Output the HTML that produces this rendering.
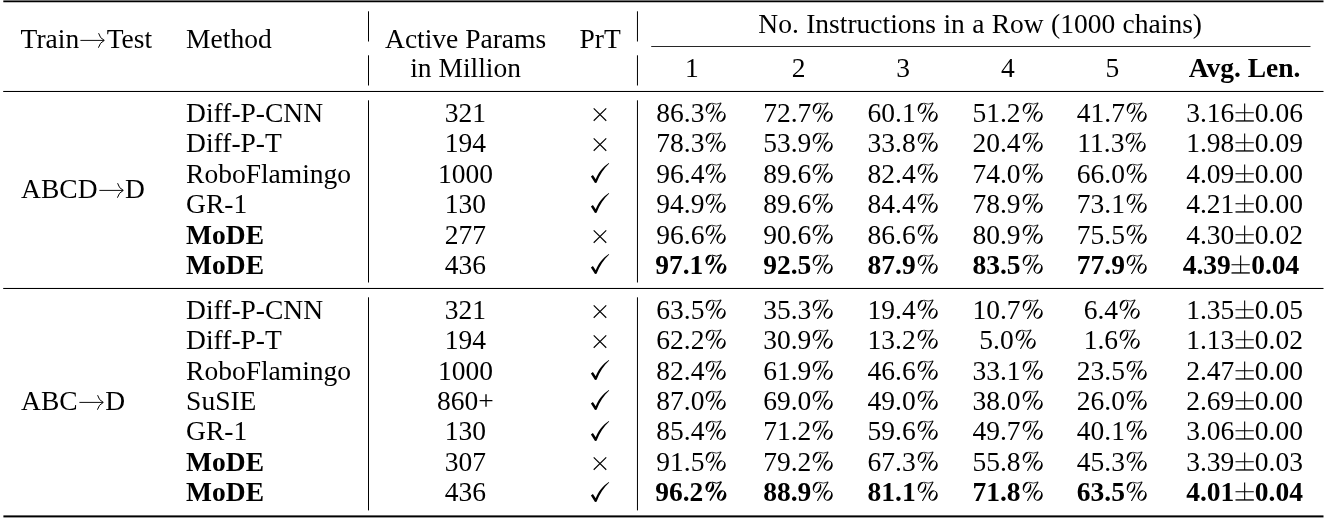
<!DOCTYPE html>
<html><head><meta charset="utf-8"><style>
html,body{margin:0;padding:0;background:#fff;}
body{width:1329px;height:519px;position:relative;overflow:hidden;font-family:"Liberation Serif",serif;font-size:27.5px;line-height:30px;color:#000;}
.t{position:absolute;white-space:nowrap;}
.c{text-align:center;}
.b,b{font-weight:bold;}
i{font-style:italic;}
#w{position:absolute;left:0;top:0;width:1329px;height:519px;transform:translateZ(0);}
.pm{vertical-align:baseline;margin:0 1.2px 0 0.3px;}
.ar{vertical-align:baseline;}
.pc{vertical-align:baseline;}
</style></head><body>
<div id="w">
<svg style="position:absolute;left:0;top:0" width="1329" height="519"><rect x="3.3" y="0.45" width="1320.2" height="1.8"/><rect x="651.2" y="46.05" width="659.3" height="0.85"/><rect x="3.2" y="90.95" width="1320.3" height="1.05"/><rect x="3.2" y="287.95" width="1320.3" height="1.05"/><rect x="3.4" y="515.4" width="1320.1" height="2.0"/><rect x="368.0" y="11.3" width="1.0" height="30.2"/><rect x="368.0" y="55.3" width="1.0" height="30.2"/><rect x="368.0" y="100.3" width="1.0" height="182.2"/><rect x="368.0" y="297.3" width="1.0" height="213.1"/><rect x="636.95" y="11.3" width="1.0" height="30.2"/><rect x="636.95" y="55.3" width="1.0" height="30.2"/><rect x="636.95" y="100.3" width="1.0" height="182.2"/><rect x="636.95" y="297.3" width="1.0" height="213.1"/></svg>
<div class="t " style="left:20.60px;top:24.00px;">Train<svg class="ar" width="27.5" height="20" viewBox="0 0 27.5 20"><path d="M1.4 12.4H25" stroke="#000" stroke-width="0.95" fill="none"/><path d="M19.6 5.2Q20.8 10.3 25.3 12.4Q20.8 14.5 19.4 19.7" stroke="#000" stroke-width="1" fill="none"/></svg>Test</div>
<div class="t " style="left:186.10px;top:24.00px;">Method</div>
<div class="t c " style="left:115.60px;top:24.00px;width:700px;">Active Params</div>
<div class="t c " style="left:115.60px;top:53.00px;width:700px;">in Million</div>
<div class="t c " style="left:250.20px;top:24.00px;width:700px;">PrT</div>
<div class="t c " style="left:630.20px;top:9.00px;width:700px;word-spacing:0.5px">No. Instructions in a Row (1000 chains)</div>
<div class="t c " style="left:341.80px;top:53.00px;width:700px;">1</div>
<div class="t c " style="left:448.70px;top:53.00px;width:700px;">2</div>
<div class="t c " style="left:553.10px;top:53.00px;width:700px;">3</div>
<div class="t c " style="left:657.90px;top:53.00px;width:700px;">4</div>
<div class="t c " style="left:762.30px;top:53.00px;width:700px;">5</div>
<div class="t c b" style="left:894.60px;top:53.00px;width:700px;">Avg. Len.</div>
<div class="t " style="left:186.10px;top:98.00px;">Diff-P-CNN</div>
<div class="t c " style="left:115.40px;top:98.00px;width:700px;">321</div>
<svg width="16" height="16" viewBox="0 0 16 16" style="position:absolute;left:592px;top:107.0px"><path d="M1.7 1.45L14.25 13.75M14.25 1.45L1.7 13.75" stroke="#000" stroke-width="1.15" fill="none"/></svg>
<div class="t c " style="left:341.80px;top:98.00px;width:700px;">86.3<svg class="pc" width="22.9" height="21" viewBox="0 0 22.9 21"><path fill-rule="evenodd" d="M1.76 7.45A4.29 5.44 0 1 0 10.34 7.45A4.29 5.44 0 1 0 1.76 7.45Z" transform="rotate(12 6.05 7.45)"/><path fill="#fff" d="M3.70 7.45A2.35 4.75 0 1 0 8.40 7.45A2.35 4.75 0 1 0 3.70 7.45Z" transform="rotate(24 6.05 7.45)"/><path fill-rule="evenodd" d="M12.53 15.55A4.57 5.22 0 1 0 21.67 15.55A4.57 5.22 0 1 0 12.53 15.55Z" transform="rotate(12 17.1 15.55)"/><path fill="#fff" d="M14.65 15.55A2.45 4.5 0 1 0 19.55 15.55A2.45 4.5 0 1 0 14.65 15.55Z" transform="rotate(24 17.1 15.55)"/><path d="M17.05 2.0L6.4 20.95" stroke="#000" stroke-width="1.15" fill="none"/><path d="M7.6 2.1Q12.4 4.3 17.2 1.9" stroke="#000" stroke-width="0.75" fill="none"/></svg></div>
<div class="t c " style="left:448.70px;top:98.00px;width:700px;">72.7<svg class="pc" width="22.9" height="21" viewBox="0 0 22.9 21"><path fill-rule="evenodd" d="M1.76 7.45A4.29 5.44 0 1 0 10.34 7.45A4.29 5.44 0 1 0 1.76 7.45Z" transform="rotate(12 6.05 7.45)"/><path fill="#fff" d="M3.70 7.45A2.35 4.75 0 1 0 8.40 7.45A2.35 4.75 0 1 0 3.70 7.45Z" transform="rotate(24 6.05 7.45)"/><path fill-rule="evenodd" d="M12.53 15.55A4.57 5.22 0 1 0 21.67 15.55A4.57 5.22 0 1 0 12.53 15.55Z" transform="rotate(12 17.1 15.55)"/><path fill="#fff" d="M14.65 15.55A2.45 4.5 0 1 0 19.55 15.55A2.45 4.5 0 1 0 14.65 15.55Z" transform="rotate(24 17.1 15.55)"/><path d="M17.05 2.0L6.4 20.95" stroke="#000" stroke-width="1.15" fill="none"/><path d="M7.6 2.1Q12.4 4.3 17.2 1.9" stroke="#000" stroke-width="0.75" fill="none"/></svg></div>
<div class="t c " style="left:553.10px;top:98.00px;width:700px;">60.1<svg class="pc" width="22.9" height="21" viewBox="0 0 22.9 21"><path fill-rule="evenodd" d="M1.76 7.45A4.29 5.44 0 1 0 10.34 7.45A4.29 5.44 0 1 0 1.76 7.45Z" transform="rotate(12 6.05 7.45)"/><path fill="#fff" d="M3.70 7.45A2.35 4.75 0 1 0 8.40 7.45A2.35 4.75 0 1 0 3.70 7.45Z" transform="rotate(24 6.05 7.45)"/><path fill-rule="evenodd" d="M12.53 15.55A4.57 5.22 0 1 0 21.67 15.55A4.57 5.22 0 1 0 12.53 15.55Z" transform="rotate(12 17.1 15.55)"/><path fill="#fff" d="M14.65 15.55A2.45 4.5 0 1 0 19.55 15.55A2.45 4.5 0 1 0 14.65 15.55Z" transform="rotate(24 17.1 15.55)"/><path d="M17.05 2.0L6.4 20.95" stroke="#000" stroke-width="1.15" fill="none"/><path d="M7.6 2.1Q12.4 4.3 17.2 1.9" stroke="#000" stroke-width="0.75" fill="none"/></svg></div>
<div class="t c " style="left:657.90px;top:98.00px;width:700px;">51.2<svg class="pc" width="22.9" height="21" viewBox="0 0 22.9 21"><path fill-rule="evenodd" d="M1.76 7.45A4.29 5.44 0 1 0 10.34 7.45A4.29 5.44 0 1 0 1.76 7.45Z" transform="rotate(12 6.05 7.45)"/><path fill="#fff" d="M3.70 7.45A2.35 4.75 0 1 0 8.40 7.45A2.35 4.75 0 1 0 3.70 7.45Z" transform="rotate(24 6.05 7.45)"/><path fill-rule="evenodd" d="M12.53 15.55A4.57 5.22 0 1 0 21.67 15.55A4.57 5.22 0 1 0 12.53 15.55Z" transform="rotate(12 17.1 15.55)"/><path fill="#fff" d="M14.65 15.55A2.45 4.5 0 1 0 19.55 15.55A2.45 4.5 0 1 0 14.65 15.55Z" transform="rotate(24 17.1 15.55)"/><path d="M17.05 2.0L6.4 20.95" stroke="#000" stroke-width="1.15" fill="none"/><path d="M7.6 2.1Q12.4 4.3 17.2 1.9" stroke="#000" stroke-width="0.75" fill="none"/></svg></div>
<div class="t c " style="left:762.30px;top:98.00px;width:700px;">41.7<svg class="pc" width="22.9" height="21" viewBox="0 0 22.9 21"><path fill-rule="evenodd" d="M1.76 7.45A4.29 5.44 0 1 0 10.34 7.45A4.29 5.44 0 1 0 1.76 7.45Z" transform="rotate(12 6.05 7.45)"/><path fill="#fff" d="M3.70 7.45A2.35 4.75 0 1 0 8.40 7.45A2.35 4.75 0 1 0 3.70 7.45Z" transform="rotate(24 6.05 7.45)"/><path fill-rule="evenodd" d="M12.53 15.55A4.57 5.22 0 1 0 21.67 15.55A4.57 5.22 0 1 0 12.53 15.55Z" transform="rotate(12 17.1 15.55)"/><path fill="#fff" d="M14.65 15.55A2.45 4.5 0 1 0 19.55 15.55A2.45 4.5 0 1 0 14.65 15.55Z" transform="rotate(24 17.1 15.55)"/><path d="M17.05 2.0L6.4 20.95" stroke="#000" stroke-width="1.15" fill="none"/><path d="M7.6 2.1Q12.4 4.3 17.2 1.9" stroke="#000" stroke-width="0.75" fill="none"/></svg></div>
<div class="t c " style="left:894.60px;top:98.00px;width:700px;">3.16<svg class="pm" width="19" height="19" viewBox="0 0 19 19"><path d="M0.5 9.8H18.8M9.65 0.6V18" stroke="#000" stroke-width="1.1" fill="none"/><path d="M0.5 17.95H18.8" stroke="#000" stroke-width="1.35" fill="none"/></svg>0.06</div>
<div class="t " style="left:186.10px;top:128.00px;">Diff-P-T</div>
<div class="t c " style="left:115.40px;top:128.00px;width:700px;">194</div>
<svg width="16" height="16" viewBox="0 0 16 16" style="position:absolute;left:592px;top:137.44px"><path d="M1.7 1.45L14.25 13.75M14.25 1.45L1.7 13.75" stroke="#000" stroke-width="1.15" fill="none"/></svg>
<div class="t c " style="left:341.80px;top:128.00px;width:700px;">78.3<svg class="pc" width="22.9" height="21" viewBox="0 0 22.9 21"><path fill-rule="evenodd" d="M1.76 7.45A4.29 5.44 0 1 0 10.34 7.45A4.29 5.44 0 1 0 1.76 7.45Z" transform="rotate(12 6.05 7.45)"/><path fill="#fff" d="M3.70 7.45A2.35 4.75 0 1 0 8.40 7.45A2.35 4.75 0 1 0 3.70 7.45Z" transform="rotate(24 6.05 7.45)"/><path fill-rule="evenodd" d="M12.53 15.55A4.57 5.22 0 1 0 21.67 15.55A4.57 5.22 0 1 0 12.53 15.55Z" transform="rotate(12 17.1 15.55)"/><path fill="#fff" d="M14.65 15.55A2.45 4.5 0 1 0 19.55 15.55A2.45 4.5 0 1 0 14.65 15.55Z" transform="rotate(24 17.1 15.55)"/><path d="M17.05 2.0L6.4 20.95" stroke="#000" stroke-width="1.15" fill="none"/><path d="M7.6 2.1Q12.4 4.3 17.2 1.9" stroke="#000" stroke-width="0.75" fill="none"/></svg></div>
<div class="t c " style="left:448.70px;top:128.00px;width:700px;">53.9<svg class="pc" width="22.9" height="21" viewBox="0 0 22.9 21"><path fill-rule="evenodd" d="M1.76 7.45A4.29 5.44 0 1 0 10.34 7.45A4.29 5.44 0 1 0 1.76 7.45Z" transform="rotate(12 6.05 7.45)"/><path fill="#fff" d="M3.70 7.45A2.35 4.75 0 1 0 8.40 7.45A2.35 4.75 0 1 0 3.70 7.45Z" transform="rotate(24 6.05 7.45)"/><path fill-rule="evenodd" d="M12.53 15.55A4.57 5.22 0 1 0 21.67 15.55A4.57 5.22 0 1 0 12.53 15.55Z" transform="rotate(12 17.1 15.55)"/><path fill="#fff" d="M14.65 15.55A2.45 4.5 0 1 0 19.55 15.55A2.45 4.5 0 1 0 14.65 15.55Z" transform="rotate(24 17.1 15.55)"/><path d="M17.05 2.0L6.4 20.95" stroke="#000" stroke-width="1.15" fill="none"/><path d="M7.6 2.1Q12.4 4.3 17.2 1.9" stroke="#000" stroke-width="0.75" fill="none"/></svg></div>
<div class="t c " style="left:553.10px;top:128.00px;width:700px;">33.8<svg class="pc" width="22.9" height="21" viewBox="0 0 22.9 21"><path fill-rule="evenodd" d="M1.76 7.45A4.29 5.44 0 1 0 10.34 7.45A4.29 5.44 0 1 0 1.76 7.45Z" transform="rotate(12 6.05 7.45)"/><path fill="#fff" d="M3.70 7.45A2.35 4.75 0 1 0 8.40 7.45A2.35 4.75 0 1 0 3.70 7.45Z" transform="rotate(24 6.05 7.45)"/><path fill-rule="evenodd" d="M12.53 15.55A4.57 5.22 0 1 0 21.67 15.55A4.57 5.22 0 1 0 12.53 15.55Z" transform="rotate(12 17.1 15.55)"/><path fill="#fff" d="M14.65 15.55A2.45 4.5 0 1 0 19.55 15.55A2.45 4.5 0 1 0 14.65 15.55Z" transform="rotate(24 17.1 15.55)"/><path d="M17.05 2.0L6.4 20.95" stroke="#000" stroke-width="1.15" fill="none"/><path d="M7.6 2.1Q12.4 4.3 17.2 1.9" stroke="#000" stroke-width="0.75" fill="none"/></svg></div>
<div class="t c " style="left:657.90px;top:128.00px;width:700px;">20.4<svg class="pc" width="22.9" height="21" viewBox="0 0 22.9 21"><path fill-rule="evenodd" d="M1.76 7.45A4.29 5.44 0 1 0 10.34 7.45A4.29 5.44 0 1 0 1.76 7.45Z" transform="rotate(12 6.05 7.45)"/><path fill="#fff" d="M3.70 7.45A2.35 4.75 0 1 0 8.40 7.45A2.35 4.75 0 1 0 3.70 7.45Z" transform="rotate(24 6.05 7.45)"/><path fill-rule="evenodd" d="M12.53 15.55A4.57 5.22 0 1 0 21.67 15.55A4.57 5.22 0 1 0 12.53 15.55Z" transform="rotate(12 17.1 15.55)"/><path fill="#fff" d="M14.65 15.55A2.45 4.5 0 1 0 19.55 15.55A2.45 4.5 0 1 0 14.65 15.55Z" transform="rotate(24 17.1 15.55)"/><path d="M17.05 2.0L6.4 20.95" stroke="#000" stroke-width="1.15" fill="none"/><path d="M7.6 2.1Q12.4 4.3 17.2 1.9" stroke="#000" stroke-width="0.75" fill="none"/></svg></div>
<div class="t c " style="left:762.30px;top:128.00px;width:700px;">11.3<svg class="pc" width="22.9" height="21" viewBox="0 0 22.9 21"><path fill-rule="evenodd" d="M1.76 7.45A4.29 5.44 0 1 0 10.34 7.45A4.29 5.44 0 1 0 1.76 7.45Z" transform="rotate(12 6.05 7.45)"/><path fill="#fff" d="M3.70 7.45A2.35 4.75 0 1 0 8.40 7.45A2.35 4.75 0 1 0 3.70 7.45Z" transform="rotate(24 6.05 7.45)"/><path fill-rule="evenodd" d="M12.53 15.55A4.57 5.22 0 1 0 21.67 15.55A4.57 5.22 0 1 0 12.53 15.55Z" transform="rotate(12 17.1 15.55)"/><path fill="#fff" d="M14.65 15.55A2.45 4.5 0 1 0 19.55 15.55A2.45 4.5 0 1 0 14.65 15.55Z" transform="rotate(24 17.1 15.55)"/><path d="M17.05 2.0L6.4 20.95" stroke="#000" stroke-width="1.15" fill="none"/><path d="M7.6 2.1Q12.4 4.3 17.2 1.9" stroke="#000" stroke-width="0.75" fill="none"/></svg></div>
<div class="t c " style="left:894.60px;top:128.00px;width:700px;">1.98<svg class="pm" width="19" height="19" viewBox="0 0 19 19"><path d="M0.5 9.8H18.8M9.65 0.6V18" stroke="#000" stroke-width="1.1" fill="none"/><path d="M0.5 17.95H18.8" stroke="#000" stroke-width="1.35" fill="none"/></svg>0.09</div>
<div class="t " style="left:186.10px;top:159.00px;">RoboFlamingo</div>
<div class="t c " style="left:115.40px;top:159.00px;width:700px;">1000</div>
<svg width="20" height="22" viewBox="0 0 20 22" style="position:absolute;left:590px;top:161.93px"><path d="M0.9 14.6L2.9 12.9L5.75 17.3C8.15 11.1 12.2 5.4 18.85 1.0L19.2 1.6C13.7 6.5 9.75 12.65 6.55 20.8L5.0 20.9Z" fill="#000"/></svg>
<div class="t c " style="left:341.80px;top:159.00px;width:700px;">96.4<svg class="pc" width="22.9" height="21" viewBox="0 0 22.9 21"><path fill-rule="evenodd" d="M1.76 7.45A4.29 5.44 0 1 0 10.34 7.45A4.29 5.44 0 1 0 1.76 7.45Z" transform="rotate(12 6.05 7.45)"/><path fill="#fff" d="M3.70 7.45A2.35 4.75 0 1 0 8.40 7.45A2.35 4.75 0 1 0 3.70 7.45Z" transform="rotate(24 6.05 7.45)"/><path fill-rule="evenodd" d="M12.53 15.55A4.57 5.22 0 1 0 21.67 15.55A4.57 5.22 0 1 0 12.53 15.55Z" transform="rotate(12 17.1 15.55)"/><path fill="#fff" d="M14.65 15.55A2.45 4.5 0 1 0 19.55 15.55A2.45 4.5 0 1 0 14.65 15.55Z" transform="rotate(24 17.1 15.55)"/><path d="M17.05 2.0L6.4 20.95" stroke="#000" stroke-width="1.15" fill="none"/><path d="M7.6 2.1Q12.4 4.3 17.2 1.9" stroke="#000" stroke-width="0.75" fill="none"/></svg></div>
<div class="t c " style="left:448.70px;top:159.00px;width:700px;">89.6<svg class="pc" width="22.9" height="21" viewBox="0 0 22.9 21"><path fill-rule="evenodd" d="M1.76 7.45A4.29 5.44 0 1 0 10.34 7.45A4.29 5.44 0 1 0 1.76 7.45Z" transform="rotate(12 6.05 7.45)"/><path fill="#fff" d="M3.70 7.45A2.35 4.75 0 1 0 8.40 7.45A2.35 4.75 0 1 0 3.70 7.45Z" transform="rotate(24 6.05 7.45)"/><path fill-rule="evenodd" d="M12.53 15.55A4.57 5.22 0 1 0 21.67 15.55A4.57 5.22 0 1 0 12.53 15.55Z" transform="rotate(12 17.1 15.55)"/><path fill="#fff" d="M14.65 15.55A2.45 4.5 0 1 0 19.55 15.55A2.45 4.5 0 1 0 14.65 15.55Z" transform="rotate(24 17.1 15.55)"/><path d="M17.05 2.0L6.4 20.95" stroke="#000" stroke-width="1.15" fill="none"/><path d="M7.6 2.1Q12.4 4.3 17.2 1.9" stroke="#000" stroke-width="0.75" fill="none"/></svg></div>
<div class="t c " style="left:553.10px;top:159.00px;width:700px;">82.4<svg class="pc" width="22.9" height="21" viewBox="0 0 22.9 21"><path fill-rule="evenodd" d="M1.76 7.45A4.29 5.44 0 1 0 10.34 7.45A4.29 5.44 0 1 0 1.76 7.45Z" transform="rotate(12 6.05 7.45)"/><path fill="#fff" d="M3.70 7.45A2.35 4.75 0 1 0 8.40 7.45A2.35 4.75 0 1 0 3.70 7.45Z" transform="rotate(24 6.05 7.45)"/><path fill-rule="evenodd" d="M12.53 15.55A4.57 5.22 0 1 0 21.67 15.55A4.57 5.22 0 1 0 12.53 15.55Z" transform="rotate(12 17.1 15.55)"/><path fill="#fff" d="M14.65 15.55A2.45 4.5 0 1 0 19.55 15.55A2.45 4.5 0 1 0 14.65 15.55Z" transform="rotate(24 17.1 15.55)"/><path d="M17.05 2.0L6.4 20.95" stroke="#000" stroke-width="1.15" fill="none"/><path d="M7.6 2.1Q12.4 4.3 17.2 1.9" stroke="#000" stroke-width="0.75" fill="none"/></svg></div>
<div class="t c " style="left:657.90px;top:159.00px;width:700px;">74.0<svg class="pc" width="22.9" height="21" viewBox="0 0 22.9 21"><path fill-rule="evenodd" d="M1.76 7.45A4.29 5.44 0 1 0 10.34 7.45A4.29 5.44 0 1 0 1.76 7.45Z" transform="rotate(12 6.05 7.45)"/><path fill="#fff" d="M3.70 7.45A2.35 4.75 0 1 0 8.40 7.45A2.35 4.75 0 1 0 3.70 7.45Z" transform="rotate(24 6.05 7.45)"/><path fill-rule="evenodd" d="M12.53 15.55A4.57 5.22 0 1 0 21.67 15.55A4.57 5.22 0 1 0 12.53 15.55Z" transform="rotate(12 17.1 15.55)"/><path fill="#fff" d="M14.65 15.55A2.45 4.5 0 1 0 19.55 15.55A2.45 4.5 0 1 0 14.65 15.55Z" transform="rotate(24 17.1 15.55)"/><path d="M17.05 2.0L6.4 20.95" stroke="#000" stroke-width="1.15" fill="none"/><path d="M7.6 2.1Q12.4 4.3 17.2 1.9" stroke="#000" stroke-width="0.75" fill="none"/></svg></div>
<div class="t c " style="left:762.30px;top:159.00px;width:700px;">66.0<svg class="pc" width="22.9" height="21" viewBox="0 0 22.9 21"><path fill-rule="evenodd" d="M1.76 7.45A4.29 5.44 0 1 0 10.34 7.45A4.29 5.44 0 1 0 1.76 7.45Z" transform="rotate(12 6.05 7.45)"/><path fill="#fff" d="M3.70 7.45A2.35 4.75 0 1 0 8.40 7.45A2.35 4.75 0 1 0 3.70 7.45Z" transform="rotate(24 6.05 7.45)"/><path fill-rule="evenodd" d="M12.53 15.55A4.57 5.22 0 1 0 21.67 15.55A4.57 5.22 0 1 0 12.53 15.55Z" transform="rotate(12 17.1 15.55)"/><path fill="#fff" d="M14.65 15.55A2.45 4.5 0 1 0 19.55 15.55A2.45 4.5 0 1 0 14.65 15.55Z" transform="rotate(24 17.1 15.55)"/><path d="M17.05 2.0L6.4 20.95" stroke="#000" stroke-width="1.15" fill="none"/><path d="M7.6 2.1Q12.4 4.3 17.2 1.9" stroke="#000" stroke-width="0.75" fill="none"/></svg></div>
<div class="t c " style="left:894.60px;top:159.00px;width:700px;">4.09<svg class="pm" width="19" height="19" viewBox="0 0 19 19"><path d="M0.5 9.8H18.8M9.65 0.6V18" stroke="#000" stroke-width="1.1" fill="none"/><path d="M0.5 17.95H18.8" stroke="#000" stroke-width="1.35" fill="none"/></svg>0.00</div>
<div class="t " style="left:186.10px;top:189.00px;">GR-1</div>
<div class="t c " style="left:115.40px;top:189.00px;width:700px;">130</div>
<svg width="20" height="22" viewBox="0 0 20 22" style="position:absolute;left:590px;top:192.37px"><path d="M0.9 14.6L2.9 12.9L5.75 17.3C8.15 11.1 12.2 5.4 18.85 1.0L19.2 1.6C13.7 6.5 9.75 12.65 6.55 20.8L5.0 20.9Z" fill="#000"/></svg>
<div class="t c " style="left:341.80px;top:189.00px;width:700px;">94.9<svg class="pc" width="22.9" height="21" viewBox="0 0 22.9 21"><path fill-rule="evenodd" d="M1.76 7.45A4.29 5.44 0 1 0 10.34 7.45A4.29 5.44 0 1 0 1.76 7.45Z" transform="rotate(12 6.05 7.45)"/><path fill="#fff" d="M3.70 7.45A2.35 4.75 0 1 0 8.40 7.45A2.35 4.75 0 1 0 3.70 7.45Z" transform="rotate(24 6.05 7.45)"/><path fill-rule="evenodd" d="M12.53 15.55A4.57 5.22 0 1 0 21.67 15.55A4.57 5.22 0 1 0 12.53 15.55Z" transform="rotate(12 17.1 15.55)"/><path fill="#fff" d="M14.65 15.55A2.45 4.5 0 1 0 19.55 15.55A2.45 4.5 0 1 0 14.65 15.55Z" transform="rotate(24 17.1 15.55)"/><path d="M17.05 2.0L6.4 20.95" stroke="#000" stroke-width="1.15" fill="none"/><path d="M7.6 2.1Q12.4 4.3 17.2 1.9" stroke="#000" stroke-width="0.75" fill="none"/></svg></div>
<div class="t c " style="left:448.70px;top:189.00px;width:700px;">89.6<svg class="pc" width="22.9" height="21" viewBox="0 0 22.9 21"><path fill-rule="evenodd" d="M1.76 7.45A4.29 5.44 0 1 0 10.34 7.45A4.29 5.44 0 1 0 1.76 7.45Z" transform="rotate(12 6.05 7.45)"/><path fill="#fff" d="M3.70 7.45A2.35 4.75 0 1 0 8.40 7.45A2.35 4.75 0 1 0 3.70 7.45Z" transform="rotate(24 6.05 7.45)"/><path fill-rule="evenodd" d="M12.53 15.55A4.57 5.22 0 1 0 21.67 15.55A4.57 5.22 0 1 0 12.53 15.55Z" transform="rotate(12 17.1 15.55)"/><path fill="#fff" d="M14.65 15.55A2.45 4.5 0 1 0 19.55 15.55A2.45 4.5 0 1 0 14.65 15.55Z" transform="rotate(24 17.1 15.55)"/><path d="M17.05 2.0L6.4 20.95" stroke="#000" stroke-width="1.15" fill="none"/><path d="M7.6 2.1Q12.4 4.3 17.2 1.9" stroke="#000" stroke-width="0.75" fill="none"/></svg></div>
<div class="t c " style="left:553.10px;top:189.00px;width:700px;">84.4<svg class="pc" width="22.9" height="21" viewBox="0 0 22.9 21"><path fill-rule="evenodd" d="M1.76 7.45A4.29 5.44 0 1 0 10.34 7.45A4.29 5.44 0 1 0 1.76 7.45Z" transform="rotate(12 6.05 7.45)"/><path fill="#fff" d="M3.70 7.45A2.35 4.75 0 1 0 8.40 7.45A2.35 4.75 0 1 0 3.70 7.45Z" transform="rotate(24 6.05 7.45)"/><path fill-rule="evenodd" d="M12.53 15.55A4.57 5.22 0 1 0 21.67 15.55A4.57 5.22 0 1 0 12.53 15.55Z" transform="rotate(12 17.1 15.55)"/><path fill="#fff" d="M14.65 15.55A2.45 4.5 0 1 0 19.55 15.55A2.45 4.5 0 1 0 14.65 15.55Z" transform="rotate(24 17.1 15.55)"/><path d="M17.05 2.0L6.4 20.95" stroke="#000" stroke-width="1.15" fill="none"/><path d="M7.6 2.1Q12.4 4.3 17.2 1.9" stroke="#000" stroke-width="0.75" fill="none"/></svg></div>
<div class="t c " style="left:657.90px;top:189.00px;width:700px;">78.9<svg class="pc" width="22.9" height="21" viewBox="0 0 22.9 21"><path fill-rule="evenodd" d="M1.76 7.45A4.29 5.44 0 1 0 10.34 7.45A4.29 5.44 0 1 0 1.76 7.45Z" transform="rotate(12 6.05 7.45)"/><path fill="#fff" d="M3.70 7.45A2.35 4.75 0 1 0 8.40 7.45A2.35 4.75 0 1 0 3.70 7.45Z" transform="rotate(24 6.05 7.45)"/><path fill-rule="evenodd" d="M12.53 15.55A4.57 5.22 0 1 0 21.67 15.55A4.57 5.22 0 1 0 12.53 15.55Z" transform="rotate(12 17.1 15.55)"/><path fill="#fff" d="M14.65 15.55A2.45 4.5 0 1 0 19.55 15.55A2.45 4.5 0 1 0 14.65 15.55Z" transform="rotate(24 17.1 15.55)"/><path d="M17.05 2.0L6.4 20.95" stroke="#000" stroke-width="1.15" fill="none"/><path d="M7.6 2.1Q12.4 4.3 17.2 1.9" stroke="#000" stroke-width="0.75" fill="none"/></svg></div>
<div class="t c " style="left:762.30px;top:189.00px;width:700px;">73.1<svg class="pc" width="22.9" height="21" viewBox="0 0 22.9 21"><path fill-rule="evenodd" d="M1.76 7.45A4.29 5.44 0 1 0 10.34 7.45A4.29 5.44 0 1 0 1.76 7.45Z" transform="rotate(12 6.05 7.45)"/><path fill="#fff" d="M3.70 7.45A2.35 4.75 0 1 0 8.40 7.45A2.35 4.75 0 1 0 3.70 7.45Z" transform="rotate(24 6.05 7.45)"/><path fill-rule="evenodd" d="M12.53 15.55A4.57 5.22 0 1 0 21.67 15.55A4.57 5.22 0 1 0 12.53 15.55Z" transform="rotate(12 17.1 15.55)"/><path fill="#fff" d="M14.65 15.55A2.45 4.5 0 1 0 19.55 15.55A2.45 4.5 0 1 0 14.65 15.55Z" transform="rotate(24 17.1 15.55)"/><path d="M17.05 2.0L6.4 20.95" stroke="#000" stroke-width="1.15" fill="none"/><path d="M7.6 2.1Q12.4 4.3 17.2 1.9" stroke="#000" stroke-width="0.75" fill="none"/></svg></div>
<div class="t c " style="left:894.60px;top:189.00px;width:700px;">4.21<svg class="pm" width="19" height="19" viewBox="0 0 19 19"><path d="M0.5 9.8H18.8M9.65 0.6V18" stroke="#000" stroke-width="1.1" fill="none"/><path d="M0.5 17.95H18.8" stroke="#000" stroke-width="1.35" fill="none"/></svg>0.00</div>
<div class="t b" style="left:186.10px;top:220.00px;">MoDE</div>
<div class="t c " style="left:115.40px;top:220.00px;width:700px;">277</div>
<svg width="16" height="16" viewBox="0 0 16 16" style="position:absolute;left:592px;top:228.76px"><path d="M1.7 1.45L14.25 13.75M14.25 1.45L1.7 13.75" stroke="#000" stroke-width="1.15" fill="none"/></svg>
<div class="t c " style="left:341.80px;top:220.00px;width:700px;">96.6<svg class="pc" width="22.9" height="21" viewBox="0 0 22.9 21"><path fill-rule="evenodd" d="M1.76 7.45A4.29 5.44 0 1 0 10.34 7.45A4.29 5.44 0 1 0 1.76 7.45Z" transform="rotate(12 6.05 7.45)"/><path fill="#fff" d="M3.70 7.45A2.35 4.75 0 1 0 8.40 7.45A2.35 4.75 0 1 0 3.70 7.45Z" transform="rotate(24 6.05 7.45)"/><path fill-rule="evenodd" d="M12.53 15.55A4.57 5.22 0 1 0 21.67 15.55A4.57 5.22 0 1 0 12.53 15.55Z" transform="rotate(12 17.1 15.55)"/><path fill="#fff" d="M14.65 15.55A2.45 4.5 0 1 0 19.55 15.55A2.45 4.5 0 1 0 14.65 15.55Z" transform="rotate(24 17.1 15.55)"/><path d="M17.05 2.0L6.4 20.95" stroke="#000" stroke-width="1.15" fill="none"/><path d="M7.6 2.1Q12.4 4.3 17.2 1.9" stroke="#000" stroke-width="0.75" fill="none"/></svg></div>
<div class="t c " style="left:448.70px;top:220.00px;width:700px;">90.6<svg class="pc" width="22.9" height="21" viewBox="0 0 22.9 21"><path fill-rule="evenodd" d="M1.76 7.45A4.29 5.44 0 1 0 10.34 7.45A4.29 5.44 0 1 0 1.76 7.45Z" transform="rotate(12 6.05 7.45)"/><path fill="#fff" d="M3.70 7.45A2.35 4.75 0 1 0 8.40 7.45A2.35 4.75 0 1 0 3.70 7.45Z" transform="rotate(24 6.05 7.45)"/><path fill-rule="evenodd" d="M12.53 15.55A4.57 5.22 0 1 0 21.67 15.55A4.57 5.22 0 1 0 12.53 15.55Z" transform="rotate(12 17.1 15.55)"/><path fill="#fff" d="M14.65 15.55A2.45 4.5 0 1 0 19.55 15.55A2.45 4.5 0 1 0 14.65 15.55Z" transform="rotate(24 17.1 15.55)"/><path d="M17.05 2.0L6.4 20.95" stroke="#000" stroke-width="1.15" fill="none"/><path d="M7.6 2.1Q12.4 4.3 17.2 1.9" stroke="#000" stroke-width="0.75" fill="none"/></svg></div>
<div class="t c " style="left:553.10px;top:220.00px;width:700px;">86.6<svg class="pc" width="22.9" height="21" viewBox="0 0 22.9 21"><path fill-rule="evenodd" d="M1.76 7.45A4.29 5.44 0 1 0 10.34 7.45A4.29 5.44 0 1 0 1.76 7.45Z" transform="rotate(12 6.05 7.45)"/><path fill="#fff" d="M3.70 7.45A2.35 4.75 0 1 0 8.40 7.45A2.35 4.75 0 1 0 3.70 7.45Z" transform="rotate(24 6.05 7.45)"/><path fill-rule="evenodd" d="M12.53 15.55A4.57 5.22 0 1 0 21.67 15.55A4.57 5.22 0 1 0 12.53 15.55Z" transform="rotate(12 17.1 15.55)"/><path fill="#fff" d="M14.65 15.55A2.45 4.5 0 1 0 19.55 15.55A2.45 4.5 0 1 0 14.65 15.55Z" transform="rotate(24 17.1 15.55)"/><path d="M17.05 2.0L6.4 20.95" stroke="#000" stroke-width="1.15" fill="none"/><path d="M7.6 2.1Q12.4 4.3 17.2 1.9" stroke="#000" stroke-width="0.75" fill="none"/></svg></div>
<div class="t c " style="left:657.90px;top:220.00px;width:700px;">80.9<svg class="pc" width="22.9" height="21" viewBox="0 0 22.9 21"><path fill-rule="evenodd" d="M1.76 7.45A4.29 5.44 0 1 0 10.34 7.45A4.29 5.44 0 1 0 1.76 7.45Z" transform="rotate(12 6.05 7.45)"/><path fill="#fff" d="M3.70 7.45A2.35 4.75 0 1 0 8.40 7.45A2.35 4.75 0 1 0 3.70 7.45Z" transform="rotate(24 6.05 7.45)"/><path fill-rule="evenodd" d="M12.53 15.55A4.57 5.22 0 1 0 21.67 15.55A4.57 5.22 0 1 0 12.53 15.55Z" transform="rotate(12 17.1 15.55)"/><path fill="#fff" d="M14.65 15.55A2.45 4.5 0 1 0 19.55 15.55A2.45 4.5 0 1 0 14.65 15.55Z" transform="rotate(24 17.1 15.55)"/><path d="M17.05 2.0L6.4 20.95" stroke="#000" stroke-width="1.15" fill="none"/><path d="M7.6 2.1Q12.4 4.3 17.2 1.9" stroke="#000" stroke-width="0.75" fill="none"/></svg></div>
<div class="t c " style="left:762.30px;top:220.00px;width:700px;">75.5<svg class="pc" width="22.9" height="21" viewBox="0 0 22.9 21"><path fill-rule="evenodd" d="M1.76 7.45A4.29 5.44 0 1 0 10.34 7.45A4.29 5.44 0 1 0 1.76 7.45Z" transform="rotate(12 6.05 7.45)"/><path fill="#fff" d="M3.70 7.45A2.35 4.75 0 1 0 8.40 7.45A2.35 4.75 0 1 0 3.70 7.45Z" transform="rotate(24 6.05 7.45)"/><path fill-rule="evenodd" d="M12.53 15.55A4.57 5.22 0 1 0 21.67 15.55A4.57 5.22 0 1 0 12.53 15.55Z" transform="rotate(12 17.1 15.55)"/><path fill="#fff" d="M14.65 15.55A2.45 4.5 0 1 0 19.55 15.55A2.45 4.5 0 1 0 14.65 15.55Z" transform="rotate(24 17.1 15.55)"/><path d="M17.05 2.0L6.4 20.95" stroke="#000" stroke-width="1.15" fill="none"/><path d="M7.6 2.1Q12.4 4.3 17.2 1.9" stroke="#000" stroke-width="0.75" fill="none"/></svg></div>
<div class="t c " style="left:894.60px;top:220.00px;width:700px;">4.30<svg class="pm" width="19" height="19" viewBox="0 0 19 19"><path d="M0.5 9.8H18.8M9.65 0.6V18" stroke="#000" stroke-width="1.1" fill="none"/><path d="M0.5 17.95H18.8" stroke="#000" stroke-width="1.35" fill="none"/></svg>0.02</div>
<div class="t b" style="left:186.10px;top:250.00px;">MoDE</div>
<div class="t c " style="left:115.40px;top:250.00px;width:700px;">436</div>
<svg width="20" height="22" viewBox="0 0 20 22" style="position:absolute;left:590px;top:253.25px"><path d="M0.9 14.6L2.9 12.9L5.75 17.3C8.15 11.1 12.2 5.4 18.85 1.0L19.2 1.6C13.7 6.5 9.75 12.65 6.55 20.8L5.0 20.9Z" fill="#000"/></svg>
<div class="t c " style="left:341.80px;top:250.00px;width:700px;"><b>97.1</b><svg class="pc" width="25.0" height="21" viewBox="0 0 25.0 21"><path fill-rule="evenodd" d="M2.44 7.00A4.36 5.23 0 1 0 11.16 7.00A4.36 5.23 0 1 0 2.44 7.00Z" transform="rotate(12 6.8 7.0)"/><path fill="#fff" d="M5.20 7.00A1.6 4.3 0 1 0 8.40 7.00A1.6 4.3 0 1 0 5.20 7.00Z" transform="rotate(22 6.8 7.0)"/><path fill-rule="evenodd" d="M13.93 15.50A4.72 5.32 0 1 0 23.37 15.50A4.72 5.32 0 1 0 13.93 15.50Z" transform="rotate(12 18.65 15.5)"/><path fill="#fff" d="M16.95 15.50A1.7 4.4 0 1 0 20.35 15.50A1.7 4.4 0 1 0 16.95 15.50Z" transform="rotate(22 18.65 15.5)"/><path d="M18.3 1.8L7.0 20.6" stroke="#000" stroke-width="1.5" fill="none"/><path d="M8.8 2.0Q13.5 4.6 18.4 1.7" stroke="#000" stroke-width="1.0" fill="none"/></svg></div>
<div class="t c " style="left:448.70px;top:250.00px;width:700px;"><b>92.5</b><svg class="pc" width="22.9" height="21" viewBox="0 0 22.9 21"><path fill-rule="evenodd" d="M1.76 7.45A4.29 5.44 0 1 0 10.34 7.45A4.29 5.44 0 1 0 1.76 7.45Z" transform="rotate(12 6.05 7.45)"/><path fill="#fff" d="M3.70 7.45A2.35 4.75 0 1 0 8.40 7.45A2.35 4.75 0 1 0 3.70 7.45Z" transform="rotate(24 6.05 7.45)"/><path fill-rule="evenodd" d="M12.53 15.55A4.57 5.22 0 1 0 21.67 15.55A4.57 5.22 0 1 0 12.53 15.55Z" transform="rotate(12 17.1 15.55)"/><path fill="#fff" d="M14.65 15.55A2.45 4.5 0 1 0 19.55 15.55A2.45 4.5 0 1 0 14.65 15.55Z" transform="rotate(24 17.1 15.55)"/><path d="M17.05 2.0L6.4 20.95" stroke="#000" stroke-width="1.15" fill="none"/><path d="M7.6 2.1Q12.4 4.3 17.2 1.9" stroke="#000" stroke-width="0.75" fill="none"/></svg></div>
<div class="t c " style="left:553.10px;top:250.00px;width:700px;"><b>87.9</b><svg class="pc" width="22.9" height="21" viewBox="0 0 22.9 21"><path fill-rule="evenodd" d="M1.76 7.45A4.29 5.44 0 1 0 10.34 7.45A4.29 5.44 0 1 0 1.76 7.45Z" transform="rotate(12 6.05 7.45)"/><path fill="#fff" d="M3.70 7.45A2.35 4.75 0 1 0 8.40 7.45A2.35 4.75 0 1 0 3.70 7.45Z" transform="rotate(24 6.05 7.45)"/><path fill-rule="evenodd" d="M12.53 15.55A4.57 5.22 0 1 0 21.67 15.55A4.57 5.22 0 1 0 12.53 15.55Z" transform="rotate(12 17.1 15.55)"/><path fill="#fff" d="M14.65 15.55A2.45 4.5 0 1 0 19.55 15.55A2.45 4.5 0 1 0 14.65 15.55Z" transform="rotate(24 17.1 15.55)"/><path d="M17.05 2.0L6.4 20.95" stroke="#000" stroke-width="1.15" fill="none"/><path d="M7.6 2.1Q12.4 4.3 17.2 1.9" stroke="#000" stroke-width="0.75" fill="none"/></svg></div>
<div class="t c " style="left:657.90px;top:250.00px;width:700px;"><b>83.5</b><svg class="pc" width="22.9" height="21" viewBox="0 0 22.9 21"><path fill-rule="evenodd" d="M1.76 7.45A4.29 5.44 0 1 0 10.34 7.45A4.29 5.44 0 1 0 1.76 7.45Z" transform="rotate(12 6.05 7.45)"/><path fill="#fff" d="M3.70 7.45A2.35 4.75 0 1 0 8.40 7.45A2.35 4.75 0 1 0 3.70 7.45Z" transform="rotate(24 6.05 7.45)"/><path fill-rule="evenodd" d="M12.53 15.55A4.57 5.22 0 1 0 21.67 15.55A4.57 5.22 0 1 0 12.53 15.55Z" transform="rotate(12 17.1 15.55)"/><path fill="#fff" d="M14.65 15.55A2.45 4.5 0 1 0 19.55 15.55A2.45 4.5 0 1 0 14.65 15.55Z" transform="rotate(24 17.1 15.55)"/><path d="M17.05 2.0L6.4 20.95" stroke="#000" stroke-width="1.15" fill="none"/><path d="M7.6 2.1Q12.4 4.3 17.2 1.9" stroke="#000" stroke-width="0.75" fill="none"/></svg></div>
<div class="t c " style="left:762.30px;top:250.00px;width:700px;"><b>77.9</b><svg class="pc" width="22.9" height="21" viewBox="0 0 22.9 21"><path fill-rule="evenodd" d="M1.76 7.45A4.29 5.44 0 1 0 10.34 7.45A4.29 5.44 0 1 0 1.76 7.45Z" transform="rotate(12 6.05 7.45)"/><path fill="#fff" d="M3.70 7.45A2.35 4.75 0 1 0 8.40 7.45A2.35 4.75 0 1 0 3.70 7.45Z" transform="rotate(24 6.05 7.45)"/><path fill-rule="evenodd" d="M12.53 15.55A4.57 5.22 0 1 0 21.67 15.55A4.57 5.22 0 1 0 12.53 15.55Z" transform="rotate(12 17.1 15.55)"/><path fill="#fff" d="M14.65 15.55A2.45 4.5 0 1 0 19.55 15.55A2.45 4.5 0 1 0 14.65 15.55Z" transform="rotate(24 17.1 15.55)"/><path d="M17.05 2.0L6.4 20.95" stroke="#000" stroke-width="1.15" fill="none"/><path d="M7.6 2.1Q12.4 4.3 17.2 1.9" stroke="#000" stroke-width="0.75" fill="none"/></svg></div>
<div class="t c " style="left:891.00px;top:250.00px;width:700px;"><b>4.39</b><svg class="pm" width="19" height="19" viewBox="0 0 19 19"><path d="M0.5 9.8H18.8M9.65 0.6V18" stroke="#000" stroke-width="1.1" fill="none"/><path d="M0.5 17.95H18.8" stroke="#000" stroke-width="1.35" fill="none"/></svg><b>0.04</b></div>
<div class="t " style="left:186.10px;top:295.00px;">Diff-P-CNN</div>
<div class="t c " style="left:115.40px;top:295.00px;width:700px;">321</div>
<svg width="16" height="16" viewBox="0 0 16 16" style="position:absolute;left:592px;top:303.85px"><path d="M1.7 1.45L14.25 13.75M14.25 1.45L1.7 13.75" stroke="#000" stroke-width="1.15" fill="none"/></svg>
<div class="t c " style="left:341.80px;top:295.00px;width:700px;">63.5<svg class="pc" width="22.9" height="21" viewBox="0 0 22.9 21"><path fill-rule="evenodd" d="M1.76 7.45A4.29 5.44 0 1 0 10.34 7.45A4.29 5.44 0 1 0 1.76 7.45Z" transform="rotate(12 6.05 7.45)"/><path fill="#fff" d="M3.70 7.45A2.35 4.75 0 1 0 8.40 7.45A2.35 4.75 0 1 0 3.70 7.45Z" transform="rotate(24 6.05 7.45)"/><path fill-rule="evenodd" d="M12.53 15.55A4.57 5.22 0 1 0 21.67 15.55A4.57 5.22 0 1 0 12.53 15.55Z" transform="rotate(12 17.1 15.55)"/><path fill="#fff" d="M14.65 15.55A2.45 4.5 0 1 0 19.55 15.55A2.45 4.5 0 1 0 14.65 15.55Z" transform="rotate(24 17.1 15.55)"/><path d="M17.05 2.0L6.4 20.95" stroke="#000" stroke-width="1.15" fill="none"/><path d="M7.6 2.1Q12.4 4.3 17.2 1.9" stroke="#000" stroke-width="0.75" fill="none"/></svg></div>
<div class="t c " style="left:448.70px;top:295.00px;width:700px;">35.3<svg class="pc" width="22.9" height="21" viewBox="0 0 22.9 21"><path fill-rule="evenodd" d="M1.76 7.45A4.29 5.44 0 1 0 10.34 7.45A4.29 5.44 0 1 0 1.76 7.45Z" transform="rotate(12 6.05 7.45)"/><path fill="#fff" d="M3.70 7.45A2.35 4.75 0 1 0 8.40 7.45A2.35 4.75 0 1 0 3.70 7.45Z" transform="rotate(24 6.05 7.45)"/><path fill-rule="evenodd" d="M12.53 15.55A4.57 5.22 0 1 0 21.67 15.55A4.57 5.22 0 1 0 12.53 15.55Z" transform="rotate(12 17.1 15.55)"/><path fill="#fff" d="M14.65 15.55A2.45 4.5 0 1 0 19.55 15.55A2.45 4.5 0 1 0 14.65 15.55Z" transform="rotate(24 17.1 15.55)"/><path d="M17.05 2.0L6.4 20.95" stroke="#000" stroke-width="1.15" fill="none"/><path d="M7.6 2.1Q12.4 4.3 17.2 1.9" stroke="#000" stroke-width="0.75" fill="none"/></svg></div>
<div class="t c " style="left:553.10px;top:295.00px;width:700px;">19.4<svg class="pc" width="22.9" height="21" viewBox="0 0 22.9 21"><path fill-rule="evenodd" d="M1.76 7.45A4.29 5.44 0 1 0 10.34 7.45A4.29 5.44 0 1 0 1.76 7.45Z" transform="rotate(12 6.05 7.45)"/><path fill="#fff" d="M3.70 7.45A2.35 4.75 0 1 0 8.40 7.45A2.35 4.75 0 1 0 3.70 7.45Z" transform="rotate(24 6.05 7.45)"/><path fill-rule="evenodd" d="M12.53 15.55A4.57 5.22 0 1 0 21.67 15.55A4.57 5.22 0 1 0 12.53 15.55Z" transform="rotate(12 17.1 15.55)"/><path fill="#fff" d="M14.65 15.55A2.45 4.5 0 1 0 19.55 15.55A2.45 4.5 0 1 0 14.65 15.55Z" transform="rotate(24 17.1 15.55)"/><path d="M17.05 2.0L6.4 20.95" stroke="#000" stroke-width="1.15" fill="none"/><path d="M7.6 2.1Q12.4 4.3 17.2 1.9" stroke="#000" stroke-width="0.75" fill="none"/></svg></div>
<div class="t c " style="left:657.90px;top:295.00px;width:700px;">10.7<svg class="pc" width="22.9" height="21" viewBox="0 0 22.9 21"><path fill-rule="evenodd" d="M1.76 7.45A4.29 5.44 0 1 0 10.34 7.45A4.29 5.44 0 1 0 1.76 7.45Z" transform="rotate(12 6.05 7.45)"/><path fill="#fff" d="M3.70 7.45A2.35 4.75 0 1 0 8.40 7.45A2.35 4.75 0 1 0 3.70 7.45Z" transform="rotate(24 6.05 7.45)"/><path fill-rule="evenodd" d="M12.53 15.55A4.57 5.22 0 1 0 21.67 15.55A4.57 5.22 0 1 0 12.53 15.55Z" transform="rotate(12 17.1 15.55)"/><path fill="#fff" d="M14.65 15.55A2.45 4.5 0 1 0 19.55 15.55A2.45 4.5 0 1 0 14.65 15.55Z" transform="rotate(24 17.1 15.55)"/><path d="M17.05 2.0L6.4 20.95" stroke="#000" stroke-width="1.15" fill="none"/><path d="M7.6 2.1Q12.4 4.3 17.2 1.9" stroke="#000" stroke-width="0.75" fill="none"/></svg></div>
<div class="t c " style="left:762.30px;top:295.00px;width:700px;">6.4<svg class="pc" width="22.9" height="21" viewBox="0 0 22.9 21"><path fill-rule="evenodd" d="M1.76 7.45A4.29 5.44 0 1 0 10.34 7.45A4.29 5.44 0 1 0 1.76 7.45Z" transform="rotate(12 6.05 7.45)"/><path fill="#fff" d="M3.70 7.45A2.35 4.75 0 1 0 8.40 7.45A2.35 4.75 0 1 0 3.70 7.45Z" transform="rotate(24 6.05 7.45)"/><path fill-rule="evenodd" d="M12.53 15.55A4.57 5.22 0 1 0 21.67 15.55A4.57 5.22 0 1 0 12.53 15.55Z" transform="rotate(12 17.1 15.55)"/><path fill="#fff" d="M14.65 15.55A2.45 4.5 0 1 0 19.55 15.55A2.45 4.5 0 1 0 14.65 15.55Z" transform="rotate(24 17.1 15.55)"/><path d="M17.05 2.0L6.4 20.95" stroke="#000" stroke-width="1.15" fill="none"/><path d="M7.6 2.1Q12.4 4.3 17.2 1.9" stroke="#000" stroke-width="0.75" fill="none"/></svg></div>
<div class="t c " style="left:894.60px;top:295.00px;width:700px;">1.35<svg class="pm" width="19" height="19" viewBox="0 0 19 19"><path d="M0.5 9.8H18.8M9.65 0.6V18" stroke="#000" stroke-width="1.1" fill="none"/><path d="M0.5 17.95H18.8" stroke="#000" stroke-width="1.35" fill="none"/></svg>0.05</div>
<div class="t " style="left:186.10px;top:325.00px;">Diff-P-T</div>
<div class="t c " style="left:115.40px;top:325.00px;width:700px;">194</div>
<svg width="16" height="16" viewBox="0 0 16 16" style="position:absolute;left:592px;top:334.29px"><path d="M1.7 1.45L14.25 13.75M14.25 1.45L1.7 13.75" stroke="#000" stroke-width="1.15" fill="none"/></svg>
<div class="t c " style="left:341.80px;top:325.00px;width:700px;">62.2<svg class="pc" width="22.9" height="21" viewBox="0 0 22.9 21"><path fill-rule="evenodd" d="M1.76 7.45A4.29 5.44 0 1 0 10.34 7.45A4.29 5.44 0 1 0 1.76 7.45Z" transform="rotate(12 6.05 7.45)"/><path fill="#fff" d="M3.70 7.45A2.35 4.75 0 1 0 8.40 7.45A2.35 4.75 0 1 0 3.70 7.45Z" transform="rotate(24 6.05 7.45)"/><path fill-rule="evenodd" d="M12.53 15.55A4.57 5.22 0 1 0 21.67 15.55A4.57 5.22 0 1 0 12.53 15.55Z" transform="rotate(12 17.1 15.55)"/><path fill="#fff" d="M14.65 15.55A2.45 4.5 0 1 0 19.55 15.55A2.45 4.5 0 1 0 14.65 15.55Z" transform="rotate(24 17.1 15.55)"/><path d="M17.05 2.0L6.4 20.95" stroke="#000" stroke-width="1.15" fill="none"/><path d="M7.6 2.1Q12.4 4.3 17.2 1.9" stroke="#000" stroke-width="0.75" fill="none"/></svg></div>
<div class="t c " style="left:448.70px;top:325.00px;width:700px;">30.9<svg class="pc" width="22.9" height="21" viewBox="0 0 22.9 21"><path fill-rule="evenodd" d="M1.76 7.45A4.29 5.44 0 1 0 10.34 7.45A4.29 5.44 0 1 0 1.76 7.45Z" transform="rotate(12 6.05 7.45)"/><path fill="#fff" d="M3.70 7.45A2.35 4.75 0 1 0 8.40 7.45A2.35 4.75 0 1 0 3.70 7.45Z" transform="rotate(24 6.05 7.45)"/><path fill-rule="evenodd" d="M12.53 15.55A4.57 5.22 0 1 0 21.67 15.55A4.57 5.22 0 1 0 12.53 15.55Z" transform="rotate(12 17.1 15.55)"/><path fill="#fff" d="M14.65 15.55A2.45 4.5 0 1 0 19.55 15.55A2.45 4.5 0 1 0 14.65 15.55Z" transform="rotate(24 17.1 15.55)"/><path d="M17.05 2.0L6.4 20.95" stroke="#000" stroke-width="1.15" fill="none"/><path d="M7.6 2.1Q12.4 4.3 17.2 1.9" stroke="#000" stroke-width="0.75" fill="none"/></svg></div>
<div class="t c " style="left:553.10px;top:325.00px;width:700px;">13.2<svg class="pc" width="22.9" height="21" viewBox="0 0 22.9 21"><path fill-rule="evenodd" d="M1.76 7.45A4.29 5.44 0 1 0 10.34 7.45A4.29 5.44 0 1 0 1.76 7.45Z" transform="rotate(12 6.05 7.45)"/><path fill="#fff" d="M3.70 7.45A2.35 4.75 0 1 0 8.40 7.45A2.35 4.75 0 1 0 3.70 7.45Z" transform="rotate(24 6.05 7.45)"/><path fill-rule="evenodd" d="M12.53 15.55A4.57 5.22 0 1 0 21.67 15.55A4.57 5.22 0 1 0 12.53 15.55Z" transform="rotate(12 17.1 15.55)"/><path fill="#fff" d="M14.65 15.55A2.45 4.5 0 1 0 19.55 15.55A2.45 4.5 0 1 0 14.65 15.55Z" transform="rotate(24 17.1 15.55)"/><path d="M17.05 2.0L6.4 20.95" stroke="#000" stroke-width="1.15" fill="none"/><path d="M7.6 2.1Q12.4 4.3 17.2 1.9" stroke="#000" stroke-width="0.75" fill="none"/></svg></div>
<div class="t c " style="left:657.90px;top:325.00px;width:700px;">5.0<svg class="pc" width="22.9" height="21" viewBox="0 0 22.9 21"><path fill-rule="evenodd" d="M1.76 7.45A4.29 5.44 0 1 0 10.34 7.45A4.29 5.44 0 1 0 1.76 7.45Z" transform="rotate(12 6.05 7.45)"/><path fill="#fff" d="M3.70 7.45A2.35 4.75 0 1 0 8.40 7.45A2.35 4.75 0 1 0 3.70 7.45Z" transform="rotate(24 6.05 7.45)"/><path fill-rule="evenodd" d="M12.53 15.55A4.57 5.22 0 1 0 21.67 15.55A4.57 5.22 0 1 0 12.53 15.55Z" transform="rotate(12 17.1 15.55)"/><path fill="#fff" d="M14.65 15.55A2.45 4.5 0 1 0 19.55 15.55A2.45 4.5 0 1 0 14.65 15.55Z" transform="rotate(24 17.1 15.55)"/><path d="M17.05 2.0L6.4 20.95" stroke="#000" stroke-width="1.15" fill="none"/><path d="M7.6 2.1Q12.4 4.3 17.2 1.9" stroke="#000" stroke-width="0.75" fill="none"/></svg></div>
<div class="t c " style="left:762.30px;top:325.00px;width:700px;">1.6<svg class="pc" width="22.9" height="21" viewBox="0 0 22.9 21"><path fill-rule="evenodd" d="M1.76 7.45A4.29 5.44 0 1 0 10.34 7.45A4.29 5.44 0 1 0 1.76 7.45Z" transform="rotate(12 6.05 7.45)"/><path fill="#fff" d="M3.70 7.45A2.35 4.75 0 1 0 8.40 7.45A2.35 4.75 0 1 0 3.70 7.45Z" transform="rotate(24 6.05 7.45)"/><path fill-rule="evenodd" d="M12.53 15.55A4.57 5.22 0 1 0 21.67 15.55A4.57 5.22 0 1 0 12.53 15.55Z" transform="rotate(12 17.1 15.55)"/><path fill="#fff" d="M14.65 15.55A2.45 4.5 0 1 0 19.55 15.55A2.45 4.5 0 1 0 14.65 15.55Z" transform="rotate(24 17.1 15.55)"/><path d="M17.05 2.0L6.4 20.95" stroke="#000" stroke-width="1.15" fill="none"/><path d="M7.6 2.1Q12.4 4.3 17.2 1.9" stroke="#000" stroke-width="0.75" fill="none"/></svg></div>
<div class="t c " style="left:894.60px;top:325.00px;width:700px;">1.13<svg class="pm" width="19" height="19" viewBox="0 0 19 19"><path d="M0.5 9.8H18.8M9.65 0.6V18" stroke="#000" stroke-width="1.1" fill="none"/><path d="M0.5 17.95H18.8" stroke="#000" stroke-width="1.35" fill="none"/></svg>0.02</div>
<div class="t " style="left:186.10px;top:356.00px;">RoboFlamingo</div>
<div class="t c " style="left:115.40px;top:356.00px;width:700px;">1000</div>
<svg width="20" height="22" viewBox="0 0 20 22" style="position:absolute;left:590px;top:358.78px"><path d="M0.9 14.6L2.9 12.9L5.75 17.3C8.15 11.1 12.2 5.4 18.85 1.0L19.2 1.6C13.7 6.5 9.75 12.65 6.55 20.8L5.0 20.9Z" fill="#000"/></svg>
<div class="t c " style="left:341.80px;top:356.00px;width:700px;">82.4<svg class="pc" width="22.9" height="21" viewBox="0 0 22.9 21"><path fill-rule="evenodd" d="M1.76 7.45A4.29 5.44 0 1 0 10.34 7.45A4.29 5.44 0 1 0 1.76 7.45Z" transform="rotate(12 6.05 7.45)"/><path fill="#fff" d="M3.70 7.45A2.35 4.75 0 1 0 8.40 7.45A2.35 4.75 0 1 0 3.70 7.45Z" transform="rotate(24 6.05 7.45)"/><path fill-rule="evenodd" d="M12.53 15.55A4.57 5.22 0 1 0 21.67 15.55A4.57 5.22 0 1 0 12.53 15.55Z" transform="rotate(12 17.1 15.55)"/><path fill="#fff" d="M14.65 15.55A2.45 4.5 0 1 0 19.55 15.55A2.45 4.5 0 1 0 14.65 15.55Z" transform="rotate(24 17.1 15.55)"/><path d="M17.05 2.0L6.4 20.95" stroke="#000" stroke-width="1.15" fill="none"/><path d="M7.6 2.1Q12.4 4.3 17.2 1.9" stroke="#000" stroke-width="0.75" fill="none"/></svg></div>
<div class="t c " style="left:448.70px;top:356.00px;width:700px;">61.9<svg class="pc" width="22.9" height="21" viewBox="0 0 22.9 21"><path fill-rule="evenodd" d="M1.76 7.45A4.29 5.44 0 1 0 10.34 7.45A4.29 5.44 0 1 0 1.76 7.45Z" transform="rotate(12 6.05 7.45)"/><path fill="#fff" d="M3.70 7.45A2.35 4.75 0 1 0 8.40 7.45A2.35 4.75 0 1 0 3.70 7.45Z" transform="rotate(24 6.05 7.45)"/><path fill-rule="evenodd" d="M12.53 15.55A4.57 5.22 0 1 0 21.67 15.55A4.57 5.22 0 1 0 12.53 15.55Z" transform="rotate(12 17.1 15.55)"/><path fill="#fff" d="M14.65 15.55A2.45 4.5 0 1 0 19.55 15.55A2.45 4.5 0 1 0 14.65 15.55Z" transform="rotate(24 17.1 15.55)"/><path d="M17.05 2.0L6.4 20.95" stroke="#000" stroke-width="1.15" fill="none"/><path d="M7.6 2.1Q12.4 4.3 17.2 1.9" stroke="#000" stroke-width="0.75" fill="none"/></svg></div>
<div class="t c " style="left:553.10px;top:356.00px;width:700px;">46.6<svg class="pc" width="22.9" height="21" viewBox="0 0 22.9 21"><path fill-rule="evenodd" d="M1.76 7.45A4.29 5.44 0 1 0 10.34 7.45A4.29 5.44 0 1 0 1.76 7.45Z" transform="rotate(12 6.05 7.45)"/><path fill="#fff" d="M3.70 7.45A2.35 4.75 0 1 0 8.40 7.45A2.35 4.75 0 1 0 3.70 7.45Z" transform="rotate(24 6.05 7.45)"/><path fill-rule="evenodd" d="M12.53 15.55A4.57 5.22 0 1 0 21.67 15.55A4.57 5.22 0 1 0 12.53 15.55Z" transform="rotate(12 17.1 15.55)"/><path fill="#fff" d="M14.65 15.55A2.45 4.5 0 1 0 19.55 15.55A2.45 4.5 0 1 0 14.65 15.55Z" transform="rotate(24 17.1 15.55)"/><path d="M17.05 2.0L6.4 20.95" stroke="#000" stroke-width="1.15" fill="none"/><path d="M7.6 2.1Q12.4 4.3 17.2 1.9" stroke="#000" stroke-width="0.75" fill="none"/></svg></div>
<div class="t c " style="left:657.90px;top:356.00px;width:700px;">33.1<svg class="pc" width="22.9" height="21" viewBox="0 0 22.9 21"><path fill-rule="evenodd" d="M1.76 7.45A4.29 5.44 0 1 0 10.34 7.45A4.29 5.44 0 1 0 1.76 7.45Z" transform="rotate(12 6.05 7.45)"/><path fill="#fff" d="M3.70 7.45A2.35 4.75 0 1 0 8.40 7.45A2.35 4.75 0 1 0 3.70 7.45Z" transform="rotate(24 6.05 7.45)"/><path fill-rule="evenodd" d="M12.53 15.55A4.57 5.22 0 1 0 21.67 15.55A4.57 5.22 0 1 0 12.53 15.55Z" transform="rotate(12 17.1 15.55)"/><path fill="#fff" d="M14.65 15.55A2.45 4.5 0 1 0 19.55 15.55A2.45 4.5 0 1 0 14.65 15.55Z" transform="rotate(24 17.1 15.55)"/><path d="M17.05 2.0L6.4 20.95" stroke="#000" stroke-width="1.15" fill="none"/><path d="M7.6 2.1Q12.4 4.3 17.2 1.9" stroke="#000" stroke-width="0.75" fill="none"/></svg></div>
<div class="t c " style="left:762.30px;top:356.00px;width:700px;">23.5<svg class="pc" width="22.9" height="21" viewBox="0 0 22.9 21"><path fill-rule="evenodd" d="M1.76 7.45A4.29 5.44 0 1 0 10.34 7.45A4.29 5.44 0 1 0 1.76 7.45Z" transform="rotate(12 6.05 7.45)"/><path fill="#fff" d="M3.70 7.45A2.35 4.75 0 1 0 8.40 7.45A2.35 4.75 0 1 0 3.70 7.45Z" transform="rotate(24 6.05 7.45)"/><path fill-rule="evenodd" d="M12.53 15.55A4.57 5.22 0 1 0 21.67 15.55A4.57 5.22 0 1 0 12.53 15.55Z" transform="rotate(12 17.1 15.55)"/><path fill="#fff" d="M14.65 15.55A2.45 4.5 0 1 0 19.55 15.55A2.45 4.5 0 1 0 14.65 15.55Z" transform="rotate(24 17.1 15.55)"/><path d="M17.05 2.0L6.4 20.95" stroke="#000" stroke-width="1.15" fill="none"/><path d="M7.6 2.1Q12.4 4.3 17.2 1.9" stroke="#000" stroke-width="0.75" fill="none"/></svg></div>
<div class="t c " style="left:894.60px;top:356.00px;width:700px;">2.47<svg class="pm" width="19" height="19" viewBox="0 0 19 19"><path d="M0.5 9.8H18.8M9.65 0.6V18" stroke="#000" stroke-width="1.1" fill="none"/><path d="M0.5 17.95H18.8" stroke="#000" stroke-width="1.35" fill="none"/></svg>0.00</div>
<div class="t " style="left:186.10px;top:386.00px;">SuSIE</div>
<div class="t c " style="left:115.40px;top:386.00px;width:700px;">860+</div>
<svg width="20" height="22" viewBox="0 0 20 22" style="position:absolute;left:590px;top:389.22px"><path d="M0.9 14.6L2.9 12.9L5.75 17.3C8.15 11.1 12.2 5.4 18.85 1.0L19.2 1.6C13.7 6.5 9.75 12.65 6.55 20.8L5.0 20.9Z" fill="#000"/></svg>
<div class="t c " style="left:341.80px;top:386.00px;width:700px;">87.0<svg class="pc" width="22.9" height="21" viewBox="0 0 22.9 21"><path fill-rule="evenodd" d="M1.76 7.45A4.29 5.44 0 1 0 10.34 7.45A4.29 5.44 0 1 0 1.76 7.45Z" transform="rotate(12 6.05 7.45)"/><path fill="#fff" d="M3.70 7.45A2.35 4.75 0 1 0 8.40 7.45A2.35 4.75 0 1 0 3.70 7.45Z" transform="rotate(24 6.05 7.45)"/><path fill-rule="evenodd" d="M12.53 15.55A4.57 5.22 0 1 0 21.67 15.55A4.57 5.22 0 1 0 12.53 15.55Z" transform="rotate(12 17.1 15.55)"/><path fill="#fff" d="M14.65 15.55A2.45 4.5 0 1 0 19.55 15.55A2.45 4.5 0 1 0 14.65 15.55Z" transform="rotate(24 17.1 15.55)"/><path d="M17.05 2.0L6.4 20.95" stroke="#000" stroke-width="1.15" fill="none"/><path d="M7.6 2.1Q12.4 4.3 17.2 1.9" stroke="#000" stroke-width="0.75" fill="none"/></svg></div>
<div class="t c " style="left:448.70px;top:386.00px;width:700px;">69.0<svg class="pc" width="22.9" height="21" viewBox="0 0 22.9 21"><path fill-rule="evenodd" d="M1.76 7.45A4.29 5.44 0 1 0 10.34 7.45A4.29 5.44 0 1 0 1.76 7.45Z" transform="rotate(12 6.05 7.45)"/><path fill="#fff" d="M3.70 7.45A2.35 4.75 0 1 0 8.40 7.45A2.35 4.75 0 1 0 3.70 7.45Z" transform="rotate(24 6.05 7.45)"/><path fill-rule="evenodd" d="M12.53 15.55A4.57 5.22 0 1 0 21.67 15.55A4.57 5.22 0 1 0 12.53 15.55Z" transform="rotate(12 17.1 15.55)"/><path fill="#fff" d="M14.65 15.55A2.45 4.5 0 1 0 19.55 15.55A2.45 4.5 0 1 0 14.65 15.55Z" transform="rotate(24 17.1 15.55)"/><path d="M17.05 2.0L6.4 20.95" stroke="#000" stroke-width="1.15" fill="none"/><path d="M7.6 2.1Q12.4 4.3 17.2 1.9" stroke="#000" stroke-width="0.75" fill="none"/></svg></div>
<div class="t c " style="left:553.10px;top:386.00px;width:700px;">49.0<svg class="pc" width="22.9" height="21" viewBox="0 0 22.9 21"><path fill-rule="evenodd" d="M1.76 7.45A4.29 5.44 0 1 0 10.34 7.45A4.29 5.44 0 1 0 1.76 7.45Z" transform="rotate(12 6.05 7.45)"/><path fill="#fff" d="M3.70 7.45A2.35 4.75 0 1 0 8.40 7.45A2.35 4.75 0 1 0 3.70 7.45Z" transform="rotate(24 6.05 7.45)"/><path fill-rule="evenodd" d="M12.53 15.55A4.57 5.22 0 1 0 21.67 15.55A4.57 5.22 0 1 0 12.53 15.55Z" transform="rotate(12 17.1 15.55)"/><path fill="#fff" d="M14.65 15.55A2.45 4.5 0 1 0 19.55 15.55A2.45 4.5 0 1 0 14.65 15.55Z" transform="rotate(24 17.1 15.55)"/><path d="M17.05 2.0L6.4 20.95" stroke="#000" stroke-width="1.15" fill="none"/><path d="M7.6 2.1Q12.4 4.3 17.2 1.9" stroke="#000" stroke-width="0.75" fill="none"/></svg></div>
<div class="t c " style="left:657.90px;top:386.00px;width:700px;">38.0<svg class="pc" width="22.9" height="21" viewBox="0 0 22.9 21"><path fill-rule="evenodd" d="M1.76 7.45A4.29 5.44 0 1 0 10.34 7.45A4.29 5.44 0 1 0 1.76 7.45Z" transform="rotate(12 6.05 7.45)"/><path fill="#fff" d="M3.70 7.45A2.35 4.75 0 1 0 8.40 7.45A2.35 4.75 0 1 0 3.70 7.45Z" transform="rotate(24 6.05 7.45)"/><path fill-rule="evenodd" d="M12.53 15.55A4.57 5.22 0 1 0 21.67 15.55A4.57 5.22 0 1 0 12.53 15.55Z" transform="rotate(12 17.1 15.55)"/><path fill="#fff" d="M14.65 15.55A2.45 4.5 0 1 0 19.55 15.55A2.45 4.5 0 1 0 14.65 15.55Z" transform="rotate(24 17.1 15.55)"/><path d="M17.05 2.0L6.4 20.95" stroke="#000" stroke-width="1.15" fill="none"/><path d="M7.6 2.1Q12.4 4.3 17.2 1.9" stroke="#000" stroke-width="0.75" fill="none"/></svg></div>
<div class="t c " style="left:762.30px;top:386.00px;width:700px;">26.0<svg class="pc" width="22.9" height="21" viewBox="0 0 22.9 21"><path fill-rule="evenodd" d="M1.76 7.45A4.29 5.44 0 1 0 10.34 7.45A4.29 5.44 0 1 0 1.76 7.45Z" transform="rotate(12 6.05 7.45)"/><path fill="#fff" d="M3.70 7.45A2.35 4.75 0 1 0 8.40 7.45A2.35 4.75 0 1 0 3.70 7.45Z" transform="rotate(24 6.05 7.45)"/><path fill-rule="evenodd" d="M12.53 15.55A4.57 5.22 0 1 0 21.67 15.55A4.57 5.22 0 1 0 12.53 15.55Z" transform="rotate(12 17.1 15.55)"/><path fill="#fff" d="M14.65 15.55A2.45 4.5 0 1 0 19.55 15.55A2.45 4.5 0 1 0 14.65 15.55Z" transform="rotate(24 17.1 15.55)"/><path d="M17.05 2.0L6.4 20.95" stroke="#000" stroke-width="1.15" fill="none"/><path d="M7.6 2.1Q12.4 4.3 17.2 1.9" stroke="#000" stroke-width="0.75" fill="none"/></svg></div>
<div class="t c " style="left:894.60px;top:386.00px;width:700px;">2.69<svg class="pm" width="19" height="19" viewBox="0 0 19 19"><path d="M0.5 9.8H18.8M9.65 0.6V18" stroke="#000" stroke-width="1.1" fill="none"/><path d="M0.5 17.95H18.8" stroke="#000" stroke-width="1.35" fill="none"/></svg>0.00</div>
<div class="t " style="left:186.10px;top:416.00px;">GR-1</div>
<div class="t c " style="left:115.40px;top:416.00px;width:700px;">130</div>
<svg width="20" height="22" viewBox="0 0 20 22" style="position:absolute;left:590px;top:419.66px"><path d="M0.9 14.6L2.9 12.9L5.75 17.3C8.15 11.1 12.2 5.4 18.85 1.0L19.2 1.6C13.7 6.5 9.75 12.65 6.55 20.8L5.0 20.9Z" fill="#000"/></svg>
<div class="t c " style="left:341.80px;top:416.00px;width:700px;">85.4<svg class="pc" width="22.9" height="21" viewBox="0 0 22.9 21"><path fill-rule="evenodd" d="M1.76 7.45A4.29 5.44 0 1 0 10.34 7.45A4.29 5.44 0 1 0 1.76 7.45Z" transform="rotate(12 6.05 7.45)"/><path fill="#fff" d="M3.70 7.45A2.35 4.75 0 1 0 8.40 7.45A2.35 4.75 0 1 0 3.70 7.45Z" transform="rotate(24 6.05 7.45)"/><path fill-rule="evenodd" d="M12.53 15.55A4.57 5.22 0 1 0 21.67 15.55A4.57 5.22 0 1 0 12.53 15.55Z" transform="rotate(12 17.1 15.55)"/><path fill="#fff" d="M14.65 15.55A2.45 4.5 0 1 0 19.55 15.55A2.45 4.5 0 1 0 14.65 15.55Z" transform="rotate(24 17.1 15.55)"/><path d="M17.05 2.0L6.4 20.95" stroke="#000" stroke-width="1.15" fill="none"/><path d="M7.6 2.1Q12.4 4.3 17.2 1.9" stroke="#000" stroke-width="0.75" fill="none"/></svg></div>
<div class="t c " style="left:448.70px;top:416.00px;width:700px;">71.2<svg class="pc" width="22.9" height="21" viewBox="0 0 22.9 21"><path fill-rule="evenodd" d="M1.76 7.45A4.29 5.44 0 1 0 10.34 7.45A4.29 5.44 0 1 0 1.76 7.45Z" transform="rotate(12 6.05 7.45)"/><path fill="#fff" d="M3.70 7.45A2.35 4.75 0 1 0 8.40 7.45A2.35 4.75 0 1 0 3.70 7.45Z" transform="rotate(24 6.05 7.45)"/><path fill-rule="evenodd" d="M12.53 15.55A4.57 5.22 0 1 0 21.67 15.55A4.57 5.22 0 1 0 12.53 15.55Z" transform="rotate(12 17.1 15.55)"/><path fill="#fff" d="M14.65 15.55A2.45 4.5 0 1 0 19.55 15.55A2.45 4.5 0 1 0 14.65 15.55Z" transform="rotate(24 17.1 15.55)"/><path d="M17.05 2.0L6.4 20.95" stroke="#000" stroke-width="1.15" fill="none"/><path d="M7.6 2.1Q12.4 4.3 17.2 1.9" stroke="#000" stroke-width="0.75" fill="none"/></svg></div>
<div class="t c " style="left:553.10px;top:416.00px;width:700px;">59.6<svg class="pc" width="22.9" height="21" viewBox="0 0 22.9 21"><path fill-rule="evenodd" d="M1.76 7.45A4.29 5.44 0 1 0 10.34 7.45A4.29 5.44 0 1 0 1.76 7.45Z" transform="rotate(12 6.05 7.45)"/><path fill="#fff" d="M3.70 7.45A2.35 4.75 0 1 0 8.40 7.45A2.35 4.75 0 1 0 3.70 7.45Z" transform="rotate(24 6.05 7.45)"/><path fill-rule="evenodd" d="M12.53 15.55A4.57 5.22 0 1 0 21.67 15.55A4.57 5.22 0 1 0 12.53 15.55Z" transform="rotate(12 17.1 15.55)"/><path fill="#fff" d="M14.65 15.55A2.45 4.5 0 1 0 19.55 15.55A2.45 4.5 0 1 0 14.65 15.55Z" transform="rotate(24 17.1 15.55)"/><path d="M17.05 2.0L6.4 20.95" stroke="#000" stroke-width="1.15" fill="none"/><path d="M7.6 2.1Q12.4 4.3 17.2 1.9" stroke="#000" stroke-width="0.75" fill="none"/></svg></div>
<div class="t c " style="left:657.90px;top:416.00px;width:700px;">49.7<svg class="pc" width="22.9" height="21" viewBox="0 0 22.9 21"><path fill-rule="evenodd" d="M1.76 7.45A4.29 5.44 0 1 0 10.34 7.45A4.29 5.44 0 1 0 1.76 7.45Z" transform="rotate(12 6.05 7.45)"/><path fill="#fff" d="M3.70 7.45A2.35 4.75 0 1 0 8.40 7.45A2.35 4.75 0 1 0 3.70 7.45Z" transform="rotate(24 6.05 7.45)"/><path fill-rule="evenodd" d="M12.53 15.55A4.57 5.22 0 1 0 21.67 15.55A4.57 5.22 0 1 0 12.53 15.55Z" transform="rotate(12 17.1 15.55)"/><path fill="#fff" d="M14.65 15.55A2.45 4.5 0 1 0 19.55 15.55A2.45 4.5 0 1 0 14.65 15.55Z" transform="rotate(24 17.1 15.55)"/><path d="M17.05 2.0L6.4 20.95" stroke="#000" stroke-width="1.15" fill="none"/><path d="M7.6 2.1Q12.4 4.3 17.2 1.9" stroke="#000" stroke-width="0.75" fill="none"/></svg></div>
<div class="t c " style="left:762.30px;top:416.00px;width:700px;">40.1<svg class="pc" width="22.9" height="21" viewBox="0 0 22.9 21"><path fill-rule="evenodd" d="M1.76 7.45A4.29 5.44 0 1 0 10.34 7.45A4.29 5.44 0 1 0 1.76 7.45Z" transform="rotate(12 6.05 7.45)"/><path fill="#fff" d="M3.70 7.45A2.35 4.75 0 1 0 8.40 7.45A2.35 4.75 0 1 0 3.70 7.45Z" transform="rotate(24 6.05 7.45)"/><path fill-rule="evenodd" d="M12.53 15.55A4.57 5.22 0 1 0 21.67 15.55A4.57 5.22 0 1 0 12.53 15.55Z" transform="rotate(12 17.1 15.55)"/><path fill="#fff" d="M14.65 15.55A2.45 4.5 0 1 0 19.55 15.55A2.45 4.5 0 1 0 14.65 15.55Z" transform="rotate(24 17.1 15.55)"/><path d="M17.05 2.0L6.4 20.95" stroke="#000" stroke-width="1.15" fill="none"/><path d="M7.6 2.1Q12.4 4.3 17.2 1.9" stroke="#000" stroke-width="0.75" fill="none"/></svg></div>
<div class="t c " style="left:894.60px;top:416.00px;width:700px;">3.06<svg class="pm" width="19" height="19" viewBox="0 0 19 19"><path d="M0.5 9.8H18.8M9.65 0.6V18" stroke="#000" stroke-width="1.1" fill="none"/><path d="M0.5 17.95H18.8" stroke="#000" stroke-width="1.35" fill="none"/></svg>0.00</div>
<div class="t b" style="left:186.10px;top:447.00px;">MoDE</div>
<div class="t c " style="left:115.40px;top:447.00px;width:700px;">307</div>
<svg width="16" height="16" viewBox="0 0 16 16" style="position:absolute;left:592px;top:456.05px"><path d="M1.7 1.45L14.25 13.75M14.25 1.45L1.7 13.75" stroke="#000" stroke-width="1.15" fill="none"/></svg>
<div class="t c " style="left:341.80px;top:447.00px;width:700px;">91.5<svg class="pc" width="22.9" height="21" viewBox="0 0 22.9 21"><path fill-rule="evenodd" d="M1.76 7.45A4.29 5.44 0 1 0 10.34 7.45A4.29 5.44 0 1 0 1.76 7.45Z" transform="rotate(12 6.05 7.45)"/><path fill="#fff" d="M3.70 7.45A2.35 4.75 0 1 0 8.40 7.45A2.35 4.75 0 1 0 3.70 7.45Z" transform="rotate(24 6.05 7.45)"/><path fill-rule="evenodd" d="M12.53 15.55A4.57 5.22 0 1 0 21.67 15.55A4.57 5.22 0 1 0 12.53 15.55Z" transform="rotate(12 17.1 15.55)"/><path fill="#fff" d="M14.65 15.55A2.45 4.5 0 1 0 19.55 15.55A2.45 4.5 0 1 0 14.65 15.55Z" transform="rotate(24 17.1 15.55)"/><path d="M17.05 2.0L6.4 20.95" stroke="#000" stroke-width="1.15" fill="none"/><path d="M7.6 2.1Q12.4 4.3 17.2 1.9" stroke="#000" stroke-width="0.75" fill="none"/></svg></div>
<div class="t c " style="left:448.70px;top:447.00px;width:700px;">79.2<svg class="pc" width="22.9" height="21" viewBox="0 0 22.9 21"><path fill-rule="evenodd" d="M1.76 7.45A4.29 5.44 0 1 0 10.34 7.45A4.29 5.44 0 1 0 1.76 7.45Z" transform="rotate(12 6.05 7.45)"/><path fill="#fff" d="M3.70 7.45A2.35 4.75 0 1 0 8.40 7.45A2.35 4.75 0 1 0 3.70 7.45Z" transform="rotate(24 6.05 7.45)"/><path fill-rule="evenodd" d="M12.53 15.55A4.57 5.22 0 1 0 21.67 15.55A4.57 5.22 0 1 0 12.53 15.55Z" transform="rotate(12 17.1 15.55)"/><path fill="#fff" d="M14.65 15.55A2.45 4.5 0 1 0 19.55 15.55A2.45 4.5 0 1 0 14.65 15.55Z" transform="rotate(24 17.1 15.55)"/><path d="M17.05 2.0L6.4 20.95" stroke="#000" stroke-width="1.15" fill="none"/><path d="M7.6 2.1Q12.4 4.3 17.2 1.9" stroke="#000" stroke-width="0.75" fill="none"/></svg></div>
<div class="t c " style="left:553.10px;top:447.00px;width:700px;">67.3<svg class="pc" width="22.9" height="21" viewBox="0 0 22.9 21"><path fill-rule="evenodd" d="M1.76 7.45A4.29 5.44 0 1 0 10.34 7.45A4.29 5.44 0 1 0 1.76 7.45Z" transform="rotate(12 6.05 7.45)"/><path fill="#fff" d="M3.70 7.45A2.35 4.75 0 1 0 8.40 7.45A2.35 4.75 0 1 0 3.70 7.45Z" transform="rotate(24 6.05 7.45)"/><path fill-rule="evenodd" d="M12.53 15.55A4.57 5.22 0 1 0 21.67 15.55A4.57 5.22 0 1 0 12.53 15.55Z" transform="rotate(12 17.1 15.55)"/><path fill="#fff" d="M14.65 15.55A2.45 4.5 0 1 0 19.55 15.55A2.45 4.5 0 1 0 14.65 15.55Z" transform="rotate(24 17.1 15.55)"/><path d="M17.05 2.0L6.4 20.95" stroke="#000" stroke-width="1.15" fill="none"/><path d="M7.6 2.1Q12.4 4.3 17.2 1.9" stroke="#000" stroke-width="0.75" fill="none"/></svg></div>
<div class="t c " style="left:657.90px;top:447.00px;width:700px;">55.8<svg class="pc" width="22.9" height="21" viewBox="0 0 22.9 21"><path fill-rule="evenodd" d="M1.76 7.45A4.29 5.44 0 1 0 10.34 7.45A4.29 5.44 0 1 0 1.76 7.45Z" transform="rotate(12 6.05 7.45)"/><path fill="#fff" d="M3.70 7.45A2.35 4.75 0 1 0 8.40 7.45A2.35 4.75 0 1 0 3.70 7.45Z" transform="rotate(24 6.05 7.45)"/><path fill-rule="evenodd" d="M12.53 15.55A4.57 5.22 0 1 0 21.67 15.55A4.57 5.22 0 1 0 12.53 15.55Z" transform="rotate(12 17.1 15.55)"/><path fill="#fff" d="M14.65 15.55A2.45 4.5 0 1 0 19.55 15.55A2.45 4.5 0 1 0 14.65 15.55Z" transform="rotate(24 17.1 15.55)"/><path d="M17.05 2.0L6.4 20.95" stroke="#000" stroke-width="1.15" fill="none"/><path d="M7.6 2.1Q12.4 4.3 17.2 1.9" stroke="#000" stroke-width="0.75" fill="none"/></svg></div>
<div class="t c " style="left:762.30px;top:447.00px;width:700px;">45.3<svg class="pc" width="22.9" height="21" viewBox="0 0 22.9 21"><path fill-rule="evenodd" d="M1.76 7.45A4.29 5.44 0 1 0 10.34 7.45A4.29 5.44 0 1 0 1.76 7.45Z" transform="rotate(12 6.05 7.45)"/><path fill="#fff" d="M3.70 7.45A2.35 4.75 0 1 0 8.40 7.45A2.35 4.75 0 1 0 3.70 7.45Z" transform="rotate(24 6.05 7.45)"/><path fill-rule="evenodd" d="M12.53 15.55A4.57 5.22 0 1 0 21.67 15.55A4.57 5.22 0 1 0 12.53 15.55Z" transform="rotate(12 17.1 15.55)"/><path fill="#fff" d="M14.65 15.55A2.45 4.5 0 1 0 19.55 15.55A2.45 4.5 0 1 0 14.65 15.55Z" transform="rotate(24 17.1 15.55)"/><path d="M17.05 2.0L6.4 20.95" stroke="#000" stroke-width="1.15" fill="none"/><path d="M7.6 2.1Q12.4 4.3 17.2 1.9" stroke="#000" stroke-width="0.75" fill="none"/></svg></div>
<div class="t c " style="left:894.60px;top:447.00px;width:700px;">3.39<svg class="pm" width="19" height="19" viewBox="0 0 19 19"><path d="M0.5 9.8H18.8M9.65 0.6V18" stroke="#000" stroke-width="1.1" fill="none"/><path d="M0.5 17.95H18.8" stroke="#000" stroke-width="1.35" fill="none"/></svg>0.03</div>
<div class="t b" style="left:186.10px;top:477.00px;">MoDE</div>
<div class="t c " style="left:115.40px;top:477.00px;width:700px;">436</div>
<svg width="20" height="22" viewBox="0 0 20 22" style="position:absolute;left:590px;top:480.54px"><path d="M0.9 14.6L2.9 12.9L5.75 17.3C8.15 11.1 12.2 5.4 18.85 1.0L19.2 1.6C13.7 6.5 9.75 12.65 6.55 20.8L5.0 20.9Z" fill="#000"/></svg>
<div class="t c " style="left:341.80px;top:477.00px;width:700px;"><b>96.2</b><svg class="pc" width="25.0" height="21" viewBox="0 0 25.0 21"><path fill-rule="evenodd" d="M2.44 7.00A4.36 5.23 0 1 0 11.16 7.00A4.36 5.23 0 1 0 2.44 7.00Z" transform="rotate(12 6.8 7.0)"/><path fill="#fff" d="M5.20 7.00A1.6 4.3 0 1 0 8.40 7.00A1.6 4.3 0 1 0 5.20 7.00Z" transform="rotate(22 6.8 7.0)"/><path fill-rule="evenodd" d="M13.93 15.50A4.72 5.32 0 1 0 23.37 15.50A4.72 5.32 0 1 0 13.93 15.50Z" transform="rotate(12 18.65 15.5)"/><path fill="#fff" d="M16.95 15.50A1.7 4.4 0 1 0 20.35 15.50A1.7 4.4 0 1 0 16.95 15.50Z" transform="rotate(22 18.65 15.5)"/><path d="M18.3 1.8L7.0 20.6" stroke="#000" stroke-width="1.5" fill="none"/><path d="M8.8 2.0Q13.5 4.6 18.4 1.7" stroke="#000" stroke-width="1.0" fill="none"/></svg></div>
<div class="t c " style="left:448.70px;top:477.00px;width:700px;"><b>88.9</b><svg class="pc" width="22.9" height="21" viewBox="0 0 22.9 21"><path fill-rule="evenodd" d="M1.76 7.45A4.29 5.44 0 1 0 10.34 7.45A4.29 5.44 0 1 0 1.76 7.45Z" transform="rotate(12 6.05 7.45)"/><path fill="#fff" d="M3.70 7.45A2.35 4.75 0 1 0 8.40 7.45A2.35 4.75 0 1 0 3.70 7.45Z" transform="rotate(24 6.05 7.45)"/><path fill-rule="evenodd" d="M12.53 15.55A4.57 5.22 0 1 0 21.67 15.55A4.57 5.22 0 1 0 12.53 15.55Z" transform="rotate(12 17.1 15.55)"/><path fill="#fff" d="M14.65 15.55A2.45 4.5 0 1 0 19.55 15.55A2.45 4.5 0 1 0 14.65 15.55Z" transform="rotate(24 17.1 15.55)"/><path d="M17.05 2.0L6.4 20.95" stroke="#000" stroke-width="1.15" fill="none"/><path d="M7.6 2.1Q12.4 4.3 17.2 1.9" stroke="#000" stroke-width="0.75" fill="none"/></svg></div>
<div class="t c " style="left:553.10px;top:477.00px;width:700px;"><b>81.1</b><svg class="pc" width="22.9" height="21" viewBox="0 0 22.9 21"><path fill-rule="evenodd" d="M1.76 7.45A4.29 5.44 0 1 0 10.34 7.45A4.29 5.44 0 1 0 1.76 7.45Z" transform="rotate(12 6.05 7.45)"/><path fill="#fff" d="M3.70 7.45A2.35 4.75 0 1 0 8.40 7.45A2.35 4.75 0 1 0 3.70 7.45Z" transform="rotate(24 6.05 7.45)"/><path fill-rule="evenodd" d="M12.53 15.55A4.57 5.22 0 1 0 21.67 15.55A4.57 5.22 0 1 0 12.53 15.55Z" transform="rotate(12 17.1 15.55)"/><path fill="#fff" d="M14.65 15.55A2.45 4.5 0 1 0 19.55 15.55A2.45 4.5 0 1 0 14.65 15.55Z" transform="rotate(24 17.1 15.55)"/><path d="M17.05 2.0L6.4 20.95" stroke="#000" stroke-width="1.15" fill="none"/><path d="M7.6 2.1Q12.4 4.3 17.2 1.9" stroke="#000" stroke-width="0.75" fill="none"/></svg></div>
<div class="t c " style="left:657.90px;top:477.00px;width:700px;"><b>71.8</b><svg class="pc" width="22.9" height="21" viewBox="0 0 22.9 21"><path fill-rule="evenodd" d="M1.76 7.45A4.29 5.44 0 1 0 10.34 7.45A4.29 5.44 0 1 0 1.76 7.45Z" transform="rotate(12 6.05 7.45)"/><path fill="#fff" d="M3.70 7.45A2.35 4.75 0 1 0 8.40 7.45A2.35 4.75 0 1 0 3.70 7.45Z" transform="rotate(24 6.05 7.45)"/><path fill-rule="evenodd" d="M12.53 15.55A4.57 5.22 0 1 0 21.67 15.55A4.57 5.22 0 1 0 12.53 15.55Z" transform="rotate(12 17.1 15.55)"/><path fill="#fff" d="M14.65 15.55A2.45 4.5 0 1 0 19.55 15.55A2.45 4.5 0 1 0 14.65 15.55Z" transform="rotate(24 17.1 15.55)"/><path d="M17.05 2.0L6.4 20.95" stroke="#000" stroke-width="1.15" fill="none"/><path d="M7.6 2.1Q12.4 4.3 17.2 1.9" stroke="#000" stroke-width="0.75" fill="none"/></svg></div>
<div class="t c " style="left:762.30px;top:477.00px;width:700px;"><b>63.5</b><svg class="pc" width="22.9" height="21" viewBox="0 0 22.9 21"><path fill-rule="evenodd" d="M1.76 7.45A4.29 5.44 0 1 0 10.34 7.45A4.29 5.44 0 1 0 1.76 7.45Z" transform="rotate(12 6.05 7.45)"/><path fill="#fff" d="M3.70 7.45A2.35 4.75 0 1 0 8.40 7.45A2.35 4.75 0 1 0 3.70 7.45Z" transform="rotate(24 6.05 7.45)"/><path fill-rule="evenodd" d="M12.53 15.55A4.57 5.22 0 1 0 21.67 15.55A4.57 5.22 0 1 0 12.53 15.55Z" transform="rotate(12 17.1 15.55)"/><path fill="#fff" d="M14.65 15.55A2.45 4.5 0 1 0 19.55 15.55A2.45 4.5 0 1 0 14.65 15.55Z" transform="rotate(24 17.1 15.55)"/><path d="M17.05 2.0L6.4 20.95" stroke="#000" stroke-width="1.15" fill="none"/><path d="M7.6 2.1Q12.4 4.3 17.2 1.9" stroke="#000" stroke-width="0.75" fill="none"/></svg></div>
<div class="t c " style="left:894.60px;top:477.00px;width:700px;"><b>4.01</b><svg class="pm" width="19" height="19" viewBox="0 0 19 19"><path d="M0.5 9.8H18.8M9.65 0.6V18" stroke="#000" stroke-width="1.1" fill="none"/><path d="M0.5 17.95H18.8" stroke="#000" stroke-width="1.35" fill="none"/></svg><b>0.04</b></div>
<div class="t " style="left:21.10px;top:174.00px;">ABCD<svg class="ar" width="27.5" height="20" viewBox="0 0 27.5 20"><path d="M1.4 12.4H25" stroke="#000" stroke-width="0.95" fill="none"/><path d="M19.6 5.2Q20.8 10.3 25.3 12.4Q20.8 14.5 19.4 19.7" stroke="#000" stroke-width="1" fill="none"/></svg>D</div>
<div class="t " style="left:21.10px;top:386.00px;">ABC<svg class="ar" width="27.5" height="20" viewBox="0 0 27.5 20"><path d="M1.4 12.4H25" stroke="#000" stroke-width="0.95" fill="none"/><path d="M19.6 5.2Q20.8 10.3 25.3 12.4Q20.8 14.5 19.4 19.7" stroke="#000" stroke-width="1" fill="none"/></svg>D</div>
</div>
</body></html>
